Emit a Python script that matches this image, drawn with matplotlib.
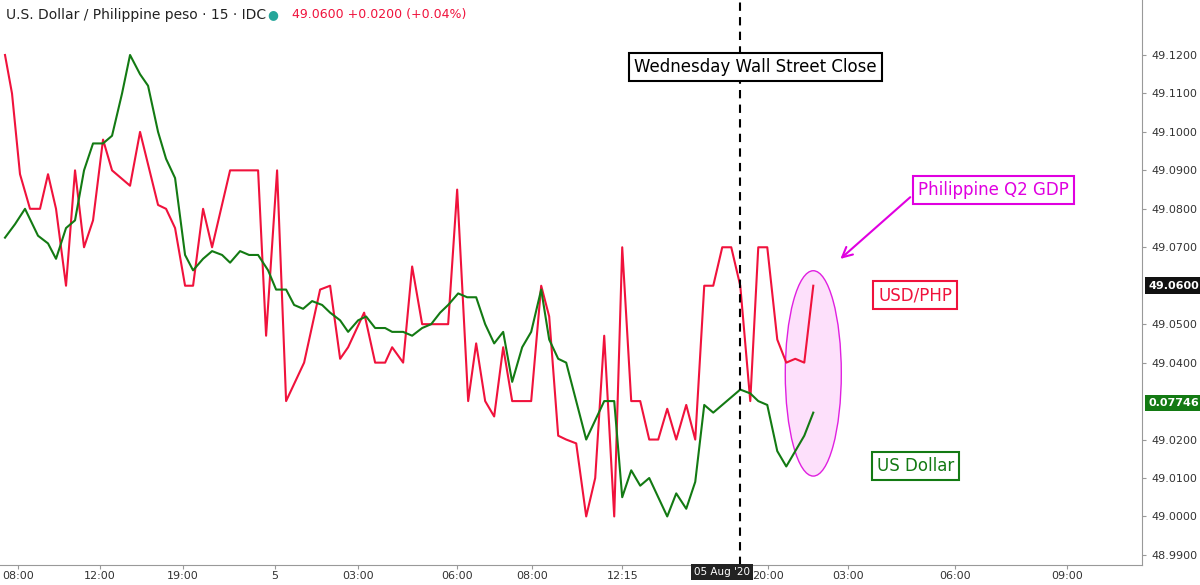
import matplotlib
matplotlib.use("Agg")
import matplotlib.pyplot as plt
from matplotlib.patches import Ellipse

red_x = [5,12,20,30,40,48,56,66,75,84,93,103,112,130,140,158,166,175,185,193,203,212,230,258,266,277,286,304,320,330,340,348,364,375,385,392,403,412,422,431,440,448,457,468,476,485,494,503,512,531,541,549,558,566,576,586,595,604,614,622,631,640,649,658,667,676,686,695,704,713,722,731,740,750,758,767,777,786,795,804,813]
red_y = [49.12,49.11,49.089,49.08,49.08,49.089,49.08,49.06,49.09,49.07,49.077,49.098,49.09,49.086,49.10,49.081,49.08,49.075,49.06,49.06,49.08,49.07,49.09,49.09,49.047,49.09,49.03,49.04,49.059,49.06,49.041,49.044,49.053,49.04,49.04,49.044,49.04,49.065,49.05,49.05,49.05,49.05,49.085,49.03,49.045,49.03,49.026,49.044,49.03,49.03,49.06,49.052,49.021,49.02,49.019,49.0,49.01,49.047,49.0,49.07,49.03,49.03,49.02,49.02,49.028,49.02,49.029,49.02,49.06,49.06,49.07,49.07,49.06,49.03,49.07,49.07,49.046,49.04,49.041,49.04,49.06]
green_x = [5,15,25,38,48,56,66,75,84,93,103,112,122,130,140,148,158,166,175,185,193,203,212,222,230,240,249,258,268,276,286,294,303,312,322,330,340,348,358,366,375,385,392,403,412,422,431,440,448,458,467,476,485,494,503,512,522,531,541,549,558,566,576,586,595,604,614,622,631,640,649,658,667,676,686,695,704,713,722,731,740,750,758,767,777,786,795,804,813]
green_y = [49.0725,49.076,49.08,49.073,49.071,49.067,49.075,49.077,49.09,49.097,49.097,49.099,49.11,49.12,49.115,49.112,49.10,49.093,49.088,49.068,49.064,49.067,49.069,49.068,49.066,49.069,49.068,49.068,49.064,49.059,49.059,49.055,49.054,49.056,49.055,49.053,49.051,49.048,49.051,49.052,49.049,49.049,49.048,49.048,49.047,49.049,49.05,49.053,49.055,49.058,49.057,49.057,49.05,49.045,49.048,49.035,49.044,49.048,49.059,49.046,49.041,49.04,49.03,49.02,49.025,49.03,49.03,49.005,49.012,49.008,49.01,49.005,49.0,49.006,49.002,49.009,49.029,49.027,49.029,49.031,49.033,49.032,49.03,49.029,49.017,49.013,49.017,49.021,49.027]
xtick_pos = [18,100,183,275,358,457,532,622,768,848,955,1067]
xtick_labels = ["08:00","12:00","19:00","5","03:00","06:00","08:00","12:15","20:00","03:00","06:00","09:00"]
ytick_vals = [48.99,49.00,49.01,49.02,49.04,49.05,49.07,49.08,49.09,49.10,49.11,49.12]

fig = plt.figure(figsize=(12,5.85), dpi=100)
ax = fig.add_axes([0, 0.035, 0.952, 0.965])
ax.set_xlim(0,1142); ax.set_ylim(48.9875,49.1343)
ax.plot(red_x, red_y, color="#f0123c", lw=1.5)
ax.plot(green_x, green_y, color="#137a13", lw=1.5)
ax.axvline(740, color="black", ls=(0,(4,3)), lw=1.5)
ax.add_patch(Ellipse((813,49.0372), 56, 0.0534, facecolor="#fde0fb", edgecolor="#e020e0", lw=1, zorder=0))
ax.text(755,49.1170,"Wednesday Wall Street Close",ha="center",va="center",fontsize=12,
        bbox=dict(boxstyle="square,pad=0.3",fc="white",ec="black",lw=1.5))
ax.text(993,49.085,"Philippine Q2 GDP",ha="center",va="center",fontsize=12,color="#e000e0",
        bbox=dict(boxstyle="square,pad=0.3",fc="white",ec="#e000e0",lw=1.5))
ax.annotate("",xy=(838,49.0665),xytext=(912,49.0835),
            arrowprops=dict(arrowstyle="->",color="#e000e0",lw=1.5,mutation_scale=18))
ax.text(915,49.0575,"USD/PHP",ha="center",va="center",fontsize=12,color="#f0123c",
        bbox=dict(boxstyle="square,pad=0.3",fc="white",ec="#f0123c",lw=1.5))
ax.text(915,49.013,"US Dollar",ha="center",va="center",fontsize=12,color="#137a13",
        bbox=dict(boxstyle="square,pad=0.3",fc="white",ec="#137a13",lw=1.5))
ax.set_xticks(xtick_pos); ax.set_xticklabels(xtick_labels, fontsize=8, color="#333")
ax.tick_params(axis="x", pad=2)
ax.yaxis.tick_right()
ax.set_yticks(ytick_vals); ax.set_yticklabels([f"{v:.4f}" for v in ytick_vals], fontsize=8, color="#333")
ax.tick_params(length=3, color="#999")
for s in ["top","left"]: ax.spines[s].set_visible(False)
for s in ["right","bottom"]: ax.spines[s].set_color("#999")
ax.text(1.005,49.06,"49.0600",transform=ax.get_yaxis_transform(),fontsize=8,color="white",weight="bold",va="center",
        bbox=dict(boxstyle="square,pad=0.3",fc="#111",ec="none"))
ax.text(1.005,49.0295,"0.07746",transform=ax.get_yaxis_transform(),fontsize=8,color="white",weight="bold",va="center",
        bbox=dict(boxstyle="square,pad=0.3",fc="#137a13",ec="none"))
ax.text(722,48.9868,"05 Aug '20",ha="center",va="top",fontsize=7.5,color="white",
        bbox=dict(boxstyle="square,pad=0.3",fc="#222",ec="none"))
fig.text(0.005,0.975,"U.S. Dollar / Philippine peso · 15 · IDC",fontsize=10,color="#222",va="center")
fig.text(0.223,0.975,"●",fontsize=9,color="#26a69a",va="center")
fig.text(0.243,0.975,"49.0600 +0.0200 (+0.04%)",fontsize=9,color="#f0123c",va="center")
fig.savefig("out.png", dpi=100)
